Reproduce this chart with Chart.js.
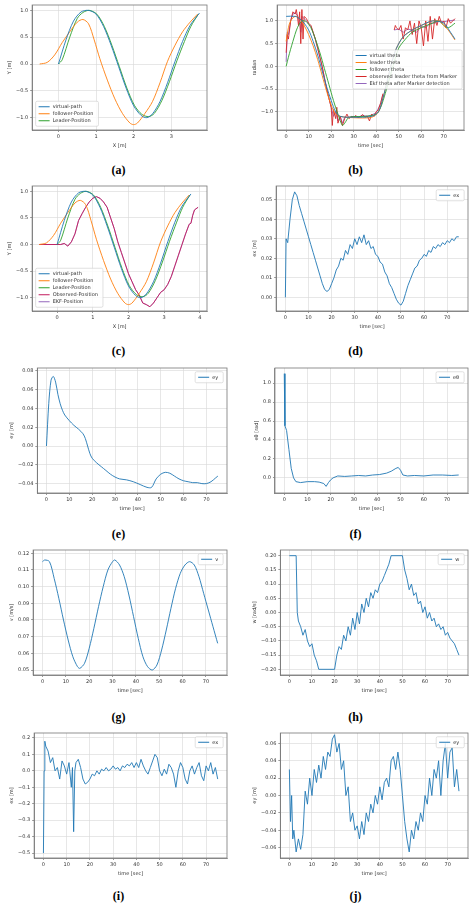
<!DOCTYPE html>
<html>
<head>
<meta charset="utf-8">
<script src="https://cdn.jsdelivr.net/npm/chart.js@4.4.0/dist/chart.umd.min.js"></script>
<style>
  body { margin: 0; background: #fff; width: 474px; height: 907px; position: relative; overflow: hidden; }
  .panel { position: absolute; width: 237px; height: 152px; }
  .cap { position: absolute; width: 237px; text-align: center; font: bold 12px "Liberation Serif", serif; }
</style>
</head>
<body>
<div class="panel" style="left:0;top:0"><canvas id="ca"></canvas></div>
<div class="panel" style="left:237px;top:0"><canvas id="cb"></canvas></div>
<div class="panel" style="left:0;top:181px"><canvas id="cc"></canvas></div>
<div class="panel" style="left:237px;top:181px"><canvas id="cd"></canvas></div>
<div class="panel" style="left:0;top:363px"><canvas id="ce"></canvas></div>
<div class="panel" style="left:237px;top:363px"><canvas id="cf"></canvas></div>
<div class="panel" style="left:0;top:545px"><canvas id="cg"></canvas></div>
<div class="panel" style="left:237px;top:545px"><canvas id="ch"></canvas></div>
<div class="panel" style="left:0;top:728px"><canvas id="ci"></canvas></div>
<div class="panel" style="left:237px;top:728px"><canvas id="cj"></canvas></div>
<div class="cap" style="left:0;top:163px">(a)</div>
<div class="cap" style="left:237px;top:163px">(b)</div>
<div class="cap" style="left:0;top:344px">(c)</div>
<div class="cap" style="left:237px;top:344px">(d)</div>
<div class="cap" style="left:0;top:527px">(e)</div>
<div class="cap" style="left:237px;top:527px">(f)</div>
<div class="cap" style="left:0;top:710px">(g)</div>
<div class="cap" style="left:237px;top:710px">(h)</div>
<div class="cap" style="left:0;top:889px">(i)</div>
<div class="cap" style="left:237px;top:889px">(j)</div>
<script>
// colours (matplotlib tab10)
const BLUE = '#1f77b4', ORANGE = '#ff7f0e', GREEN = '#2ca02c', RED = '#d62728', PURPLE = '#9467bd', CRIMSON = '#c2185b';

// --- (a)/(c) trajectories [x, y] ---
const virtualPath = [[0,0],[0.2,0.45],[0.4,0.8],[0.6,0.97],[0.8,1.0],[1.0,0.93],[1.2,0.7],[1.4,0.35],[1.6,-0.05],[1.8,-0.45],[2.0,-0.78],[2.2,-0.96],[2.35,-1.0],[2.5,-0.93],[2.7,-0.7],[2.9,-0.35],[3.1,0.05],[3.3,0.42],[3.5,0.72],[3.75,0.95]];
const leaderPos = [[0,0],[0.1,0.08],[0.3,0.5],[0.5,0.85],[0.65,0.96],[0.82,1.0],[1.02,0.93],[1.22,0.7],[1.42,0.35],[1.62,-0.05],[1.82,-0.45],[2.02,-0.77],[2.22,-0.94],[2.4,-0.98],[2.55,-0.92],[2.75,-0.68],[2.95,-0.33],[3.15,0.06],[3.35,0.42],[3.52,0.7],[3.72,0.93]];
const followerPos = [[-0.5,0],[-0.3,0.03],[-0.1,0.17],[0.1,0.4],[0.3,0.6],[0.5,0.78],[0.65,0.83],[0.8,0.75],[0.95,0.45],[1.1,0.1],[1.3,-0.3],[1.5,-0.65],[1.7,-0.92],[1.9,-1.1],[2.0,-1.13],[2.1,-1.1],[2.3,-0.92],[2.5,-0.7],[2.7,-0.35],[2.9,0.05],[3.1,0.35],[3.3,0.6],[3.5,0.78],[3.7,0.93]];
const observedPos = [[-0.5,0],[0.1,0],[0.2,0.02],[0.3,-0.03],[0.4,0.05],[0.5,0.2],[0.6,0.45],[0.7,0.58],[0.8,0.7],[0.9,0.8],[1.0,0.87],[1.1,0.9],[1.2,0.87],[1.3,0.8],[1.4,0.7],[1.5,0.5],[1.6,0.3],[1.7,0.05],[1.8,-0.15],[1.9,-0.35],[2.0,-0.55],[2.1,-0.7],[2.2,-0.85],[2.3,-0.95],[2.4,-1.1],[2.5,-1.13],[2.6,-1.17],[2.7,-1.1],[2.8,-1.0],[2.9,-0.9],[3.0,-0.85],[3.1,-0.75],[3.2,-0.6],[3.3,-0.4],[3.4,-0.2],[3.5,0.0],[3.6,0.2],[3.7,0.38],[3.75,0.4],[3.8,0.55],[3.85,0.65],[3.95,0.7]];
const ekfPos = observedPos;
const ticksAX = [0,1,2,3], ticksCX = [0,1,2,3,4], ticksPosY = [-1,-0.5,0,0.5,1];

// --- (b) heading [t, rad] ---
const virtualTheta = [[0,1.1],[4,1.1],[6,1.05],[8,0.95],[10,0.8],[12,0.55],[14,0.25],[16,-0.1],[18,-0.45],[20,-0.75],[22,-1.0],[24,-1.1],[30,-1.12],[38,-1.1],[41,-1.0],[43,-0.7],[45,-0.3],[47,0.1],[49,0.4],[52,0.65],[56,0.8],[60,0.9],[65,1.0],[70,0.95],[73,0.75],[75,0.6]];
const leaderTheta = [[0,0.55],[1,0.85],[2,1.0],[4,1.1],[6,1.05],[8,0.9],[10,0.7],[12,0.45],[14,0.15],[16,-0.2],[18,-0.55],[20,-0.85],[22,-1.05],[24,-1.1],[30,-1.13],[38,-1.12],[41,-1.0],[43,-0.7],[45,-0.3],[47,0.1],[49,0.4],[52,0.65],[56,0.8],[60,0.9],[65,1.0],[68,1.0],[70,0.9],[72,0.8],[75,0.58]];
const followerTheta = [[0,0.0],[1,0.2],[3,0.55],[5,0.85],[7,1.0],[9,0.98],[11,0.85],[13,0.6],[15,0.3],[17,-0.05],[19,-0.4],[21,-0.75],[23,-1.05],[25,-1.3],[26,-1.25],[28,-1.12],[35,-1.1],[40,-1.05],[42,-0.9],[44,-0.6],[46,-0.25],[48,0.1],[50,0.4],[53,0.6],[56,0.75],[60,0.85],[65,0.95],[68,1.0],[70,0.9],[72,0.85],[75,0.95]];
const observedTheta = [[0,0.3],[0.5,0.7],[1,0.6],[2,1.0],[3,1.2],[4,1.15],[4.5,1.25],[5,1.1],[5.5,0.9],[6,1.2],[6.5,0.5],[7,1.25],[7.5,0.6],[8,1.1],[9,1.05],[10,0.95],[11,0.9],[12,0.75],[13,0.6],[14,0.4],[15,0.2],[16,0.0],[17,-0.25],[18,-0.5],[19,-0.7],[20,-0.9],[20.5,-1.3],[21,-0.95],[22,-1.15],[22.5,-0.9],[23,-1.25],[24,-1.1],[25,-1.3],[26,-1.15],[27,-1.05],[28,-1.15],[29,-1.1],[30,-1.12],[31,-1.08],[32,-1.13],[33,-1.1],[34,-1.06],[35,-1.12],[36,-1.09],[37,-1.2],[38,-1.05],[39,-1.1],[40,-1.0],[41,-0.95],[42,-0.8],[43,-0.6],[45,null],[48,0.8],[48.5,0.9],[49,0.85],[50,0.8],[51,0.9],[52,0.6],[53,0.85],[54,0.8],[55,1.0],[56,0.7],[57,0.95],[58,0.5],[59,1.0],[60,0.85],[61,0.45],[62,1.0],[63,0.55],[64,1.1],[65,0.6],[66,1.05],[67,0.9],[68,1.1],[69,0.95],[70,1.0],[71,0.85],[72,1.05],[73,0.95],[74,1.0],[75,1.05]];
const ekfTheta = [[0,0.1],[0.5,0.75],[1,0.7],[2,1.0],[3,1.15],[4,1.18],[5,1.12],[6,1.0],[6.5,0.75],[7,1.1],[8,1.05],[9,1.0],[10,0.93],[11,0.88],[12,0.74],[13,0.58],[14,0.4],[15,0.2],[16,0.0],[17,-0.25],[18,-0.5],[19,-0.7],[20,-0.9],[21,-1.1],[22,-1.0],[23,-1.2],[24,-1.1],[25,-1.25],[26,-1.12],[28,-1.12],[30,-1.1],[32,-1.12],[34,-1.08],[36,-1.1],[38,-1.07],[40,-1.02],[42,-0.82],[43,-0.62],[45,null],[48,0.8],[50,0.82],[52,0.75],[54,0.82],[56,0.8],[58,0.75],[60,0.88],[62,0.85],[64,0.95],[66,0.95],[68,1.0],[70,0.98],[72,1.0],[75,1.02]];
const ticksT = [0,10,20,30,40,50,60,70], ticksBY = [-1,-0.5,0,0.5,1];

// --- (d) ex, (e) ey, (f) e-theta ---
const exD = [[0,0],[0.3,0.03],[1,0.028],[2,0.04],[3,0.05],[4,0.054],[5,0.052],[6,0.047],[7,0.043],[8,0.039],[9,0.035],[10,0.031],[11,0.027],[12,0.023],[13,0.019],[14,0.015],[15,0.011],[16,0.007],[17,0.004],[18,0.003],[19,0.004],[20,0.007],[21,0.01],[22,0.014],[23,0.016],[24,0.02],[25,0.019],[26,0.024],[27,0.022],[28,0.027],[29,0.025],[30,0.03],[31,0.027],[32,0.031],[33,0.028],[34,0.032],[35,0.027],[36,0.029],[37,0.025],[38,0.026],[39,0.022],[40,0.021],[41,0.018],[42,0.017],[43,0.013],[44,0.011],[45,0.007],[46,0.005],[47,0.002],[48,-0.001],[49,-0.003],[50,-0.004],[51,-0.002],[52,0.002],[53,0.006],[54,0.009],[55,0.012],[56,0.015],[57,0.016],[58,0.019],[59,0.02],[60,0.022],[61,0.021],[62,0.024],[63,0.023],[64,0.026],[65,0.025],[66,0.027],[67,0.026],[68,0.028],[69,0.027],[70,0.029],[71,0.028],[72,0.03],[73,0.029],[74,0.031],[75,0.031]];
const ticksDY = [0,0.01,0.02,0.03,0.04,0.05];
const eyE = [[0,0],[1,0.045],[2,0.07],[3,0.074],[4,0.068],[5,0.055],[6,0.045],[7,0.038],[8,0.033],[10,0.027],[12,0.022],[14,0.018],[16,0.013],[17,0.008],[18,0],[19,-0.008],[20,-0.013],[22,-0.018],[24,-0.022],[26,-0.026],[28,-0.03],[30,-0.033],[32,-0.035],[35,-0.036],[38,-0.038],[41,-0.041],[44,-0.044],[46,-0.044],[48,-0.035],[50,-0.03],[52,-0.028],[54,-0.029],[56,-0.032],[58,-0.035],[60,-0.037],[62,-0.038],[64,-0.039],[66,-0.039],[68,-0.04],[70,-0.04],[72,-0.038],[74,-0.034],[75,-0.032]];
const ticksEY = [-0.04,-0.02,0,0.02,0.04,0.06,0.08];
const ethF = [[0,1.1],[0.3,0.55],[1,0.5],[2,0.3],[3,0.1],[4,0],[5,-0.04],[7,-0.05],[10,-0.04],[13,-0.04],[15,-0.045],[17,-0.06],[18,-0.09],[19,-0.05],[20,-0.02],[21,0],[23,0.02],[26,0.015],[29,0.02],[32,0.025],[35,0.02],[38,0.03],[41,0.035],[44,0.05],[46,0.07],[48,0.1],[49,0.11],[50,0.08],[51,0.03],[53,0.02],[56,0.025],[60,0.02],[64,0.03],[68,0.03],[72,0.025],[75,0.03]];
const ticksFY = [0,0.2,0.4,0.6,0.8,1.0];

// --- (g) v, (h) w ---
const vG = [[0,0.115],[1,0.116],[3,0.115],[5,0.105],[7,0.093],[9,0.08],[11,0.068],[13,0.058],[15,0.052],[16,0.051],[18,0.054],[20,0.063],[22,0.075],[24,0.088],[26,0.1],[28,0.11],[30,0.115],[31,0.116],[33,0.113],[35,0.106],[37,0.095],[39,0.082],[41,0.069],[43,0.058],[45,0.052],[47,0.05],[49,0.053],[51,0.062],[53,0.074],[55,0.087],[57,0.099],[59,0.108],[61,0.113],[63,0.115],[65,0.113],[67,0.106],[69,0.096],[71,0.086],[73,0.076],[75,0.066]];
const ticksGY = [0.05,0.06,0.07,0.08,0.09,0.1,0.11,0.12];
const wH = [[0,0.2],[3,0.2],[3.5,0],[4,-0.03],[5,-0.05],[6,-0.08],[7,-0.06],[8,-0.1],[9,-0.12],[10,-0.11],[11,-0.15],[12,-0.17],[13,-0.2],[20,-0.2],[21,-0.15],[22,-0.12],[23,-0.13],[24,-0.08],[25,-0.1],[26,-0.05],[27,-0.08],[28,-0.02],[29,-0.06],[30,0],[31,-0.04],[32,0.03],[33,0],[34,0.05],[35,0.02],[36,0.07],[37,0.05],[38,0.08],[39,0.07],[40,0.1],[41,0.11],[42,0.13],[43,0.15],[44,0.17],[45,0.2],[50,0.2],[51,0.15],[52,0.12],[53,0.08],[54,0.1],[55,0.06],[56,0.07],[57,0.03],[58,0.04],[59,0],[60,0.02],[61,-0.02],[62,0],[63,-0.03],[64,-0.02],[65,-0.05],[66,-0.04],[67,-0.06],[68,-0.05],[69,-0.08],[70,-0.07],[71,-0.09],[72,-0.1],[73,-0.11],[74,-0.13],[75,-0.15]];
const ticksHY = [-0.2,-0.15,-0.1,-0.05,0,0.05,0.1,0.15,0.2];

// --- (i) ex, (j) ey ---
const exI = [[0,-0.5],[0.3,0],[0.6,0.18],[1,0.15],[2,0.12],[3,0.05],[4,0.08],[5,0],[6,0.02],[7,-0.05],[8,0.06],[9,0.03],[10,-0.02],[11,0.05],[12,-0.1],[12.5,0.02],[13,-0.37],[13.5,0],[14,0.05],[15,0.07],[16,0.02],[17,-0.05],[18,-0.08],[19,-0.07],[20,-0.05],[21,-0.02],[22,-0.03],[23,0],[24,-0.02],[25,0.01],[26,0],[27,0.02],[28,0],[29,0.01],[30,0.03],[31,0.01],[32,0.02],[33,0],[34,0.03],[35,0.02],[36,0.04],[37,0.03],[38,0.05],[39,0.02],[40,0.05],[41,0.02],[42,0.07],[43,0.03],[44,0],[45,-0.02],[46,0.02],[47,0.06],[48,0.1],[49,0.08],[50,0],[51,-0.03],[52,0.01],[53,-0.02],[54,0.04],[55,0.02],[56,-0.02],[57,-0.1],[58,0],[59,0.05],[60,0.02],[61,-0.05],[62,-0.08],[63,0],[64,0.03],[65,-0.02],[66,0.02],[67,0.05],[68,-0.03],[69,-0.06],[70,0.03],[71,0],[72,0.05],[73,-0.02],[74,0.02],[75,-0.05]];
const ticksIY = [-0.5,-0.4,-0.3,-0.2,-0.1,0,0.1,0.2];
const eyJ = [[0,0.03],[0.5,-0.03],[1,0],[1.5,-0.05],[2,-0.04],[3,-0.065],[4,-0.05],[5,-0.062],[6,-0.045],[7,0.005],[8,-0.01],[9,0.02],[10,0],[11,0.03],[12,0.015],[13,0.035],[14,0.02],[15,0.045],[16,0.03],[17,0.05],[18,0.045],[19,0.065],[20,0.07],[21,0.05],[22,0.06],[23,0.03],[24,0.04],[25,0],[26,0.01],[27,-0.03],[28,-0.02],[29,-0.04],[30,-0.035],[31,-0.05],[32,-0.03],[33,-0.045],[34,-0.02],[35,-0.03],[36,-0.01],[37,-0.02],[38,0],[39,-0.01],[40,0.01],[41,-0.005],[42,0.015],[43,0.02],[44,0.01],[45,0.04],[46,0.045],[47,0.03],[48,0.05],[49,0.03],[50,0],[51,-0.03],[52,-0.05],[53,-0.065],[54,-0.04],[55,-0.05],[56,-0.03],[57,-0.04],[58,-0.02],[59,-0.03],[60,0],[61,-0.01],[62,0.02],[63,0],[64,0.03],[65,0.02],[66,0.04],[67,0],[68,0.04],[69,0.06],[70,0.02],[71,0.05],[72,0.055],[73,0.01],[74,0.03],[75,0.005]];
const ticksJY = [-0.06,-0.04,-0.02,0,0.02,0.04,0.06];

Chart.defaults.font.family = 'DejaVu Sans';
Chart.defaults.font.size = 5;
Chart.defaults.color = '#333';
Chart.defaults.animation = false;

function fmt(dec) {
    return v => (v < 0 ? '\u2212' : '') + Math.abs(v).toFixed(dec);
}

// full frame around the plot area + legend inside it (matplotlib look)
const mplLegend = {
    id: 'mplLegend',
    afterDraw(chart, args, opts) {
        const c = chart.ctx, a = chart.chartArea;
        c.save();
        c.strokeStyle = '#777';
        c.lineWidth = 0.8;
        c.strokeRect(a.left, a.top, a.width, a.height);
        if (opts.fx === undefined) { c.restore(); return; }
        const items = chart.data.datasets;
        c.font = '5px DejaVu Sans';
        let w = 0;
        items.forEach(d => { w = Math.max(w, c.measureText(d.label).width); });
        const rowH = 7, bw = w + 22, bh = items.length * rowH + 4;
        let x = a.left + opts.fx * a.width, y = a.top + opts.fy * a.height;
        if (opts.alignRight) x -= bw;
        if (opts.alignBottom) y -= bh;
        c.fillStyle = 'rgba(255,255,255,0.85)';
        c.strokeStyle = '#ccc';
        c.lineWidth = 0.6;
        c.beginPath();
        c.roundRect(x, y, bw, bh, 1.5);
        c.fill(); c.stroke();
        items.forEach((d, i) => {
            const yy = y + 2 + rowH * i + rowH / 2;
            c.strokeStyle = d.borderColor;
            c.lineWidth = 1;
            c.beginPath(); c.moveTo(x + 3, yy); c.lineTo(x + 14, yy); c.stroke();
            c.fillStyle = '#333';
            c.textBaseline = 'middle';
            c.fillText(d.label, x + 17, yy);
        });
        c.restore();
    }
};

function makeChart(id, series, cfg) {
    const datasets = series.map(s => ({
        label: s.label,
        data: s.data.map(p => ({ x: p[0], y: p[1] })),
        borderColor: s.color,
        borderWidth: s.width || 0.9,
        pointRadius: 0,
        showLine: true,
        fill: false,
        tension: s.smooth ? 0.3 : 0,
        spanGaps: false
    }));
    const axis = (min, max, ticks, dec, title) => ({
        type: 'linear', min, max,
        afterBuildTicks: ax => { ax.ticks = ticks.map(v => ({ value: v })); },
        ticks: { callback: fmt(dec), padding: 2, maxRotation: 0, autoSkip: false },
        grid: { color: '#d6d6d6', lineWidth: 0.6, tickLength: 2, tickColor: '#555' },
        border: { color: '#777', width: 0.8 },
        title: { display: true, text: title, padding: 1, font: { size: 5 } }
    });
    return new Chart(document.getElementById(id), {
        type: 'scatter',
        data: { datasets },
        options: {
            responsive: true,
            maintainAspectRatio: false,
            layout: { padding: { left: cfg.padL || 6, right: cfg.padR || 30, top: 5, bottom: 2 } },
            plugins: { legend: { display: false }, tooltip: { enabled: false }, mplLegend: cfg.legend || {} },
            scales: {
                x: axis(cfg.x[0], cfg.x[1], cfg.x[2], cfg.x[3], cfg.x[4]),
                y: axis(cfg.y[0], cfg.y[1], cfg.y[2], cfg.y[3], cfg.y[4])
            }
        },
        plugins: [mplLegend]
    });
}

const posSeries = [
    { label: 'virtual-path', data: virtualPath, color: BLUE, smooth: true },
    { label: 'follower-Position', data: followerPos, color: ORANGE, smooth: true },
    { label: 'Leader-Position', data: leaderPos, color: GREEN, smooth: true }
];
makeChart('ca', posSeries, {
    x: [-0.7, 3.95, ticksAX, 0, 'X [m]'], y: [-1.23, 1.1, ticksPosY, 1, 'Y [m]'],
    legend: { fx: 0.02, fy: 0.97, alignBottom: true }
});
makeChart('cb', [
    { label: 'virtual theta', data: virtualTheta, color: BLUE, smooth: true },
    { label: 'leader theta', data: leaderTheta, color: ORANGE, smooth: true },
    { label: 'follower theta', data: followerTheta, color: GREEN, smooth: true },
    { label: 'observed leader theta from Marker', data: observedTheta, color: RED },
    { label: 'Ekf theta after Marker detection', data: ekfTheta, color: PURPLE }
], {
    x: [-4, 79, ticksT, 0, 'time [sec]'], y: [-1.4, 1.35, ticksBY, 1, 'radian'],
    legend: { fx: 0.99, fy: 0.36, alignRight: true }, padL: 14, padR: 10
});
makeChart('cc', posSeries.concat([
    { label: 'Observed-Position', data: observedPos, color: CRIMSON },
    { label: 'EKF-Position', data: ekfPos, color: PURPLE, width: 0.7 }
]), {
    x: [-0.7, 4.2, ticksCX, 0, 'X [m]'], y: [-1.25, 1.1, ticksPosY, 1, 'Y [m]'],
    legend: { fx: 0.02, fy: 0.97, alignBottom: true }
});
makeChart('cd', [{ label: 'ex', data: exD, color: BLUE }], {
    x: [-4, 79, ticksT, 0, 'time [sec]'], y: [-0.007, 0.057, ticksDY, 2, 'ex [m]'],
    legend: { fx: 0.98, fy: 0.03, alignRight: true }, padL: 14, padR: 6
});
makeChart('ce', [{ label: 'ey', data: eyE, color: BLUE, smooth: true }], {
    x: [-4, 79, ticksT, 0, 'time [sec]'], y: [-0.05, 0.083, ticksEY, 2, 'ey [m]'],
    legend: { fx: 0.98, fy: 0.03, alignRight: true }, padL: 8, padR: 10
});
makeChart('cf', [{ label: 'e\u03b8', data: ethF, color: BLUE }], {
    x: [-4, 79, ticksT, 0, 'time [sec]'], y: [-0.16, 1.16, ticksFY, 1, 'e\u03b8 [rad]'],
    legend: { fx: 0.98, fy: 0.03, alignRight: true }, padL: 16, padR: 6
});
makeChart('cg', [{ label: 'v', data: vG, color: BLUE, smooth: true }], {
    x: [-4, 79, ticksT, 0, 'time [sec]'], y: [0.047, 0.122, ticksGY, 2, 'v [m/s]'],
    legend: { fx: 0.98, fy: 0.03, alignRight: true }, padL: 8, padR: 10
});
makeChart('ch', [{ label: 'w', data: wH, color: BLUE }], {
    x: [-4, 79, ticksT, 0, 'time [sec]'], y: [-0.22, 0.22, ticksHY, 2, 'w [rad/s]'],
    legend: { fx: 0.98, fy: 0.03, alignRight: true }, padL: 14, padR: 6
});
makeChart('ci', [{ label: 'ex', data: exI, color: BLUE }], {
    x: [-4, 79, ticksT, 0, 'time [sec]'], y: [-0.53, 0.23, ticksIY, 1, 'ex [m]'],
    legend: { fx: 0.98, fy: 0.03, alignRight: true }, padL: 8, padR: 10
});
makeChart('cj', [{ label: 'ey', data: eyJ, color: BLUE }], {
    x: [-4, 79, ticksT, 0, 'time [sec]'], y: [-0.072, 0.072, ticksJY, 2, 'ey [m]'],
    legend: { fx: 0.98, fy: 0.03, alignRight: true }, padL: 14, padR: 6
});
</script>
</body>
</html>
